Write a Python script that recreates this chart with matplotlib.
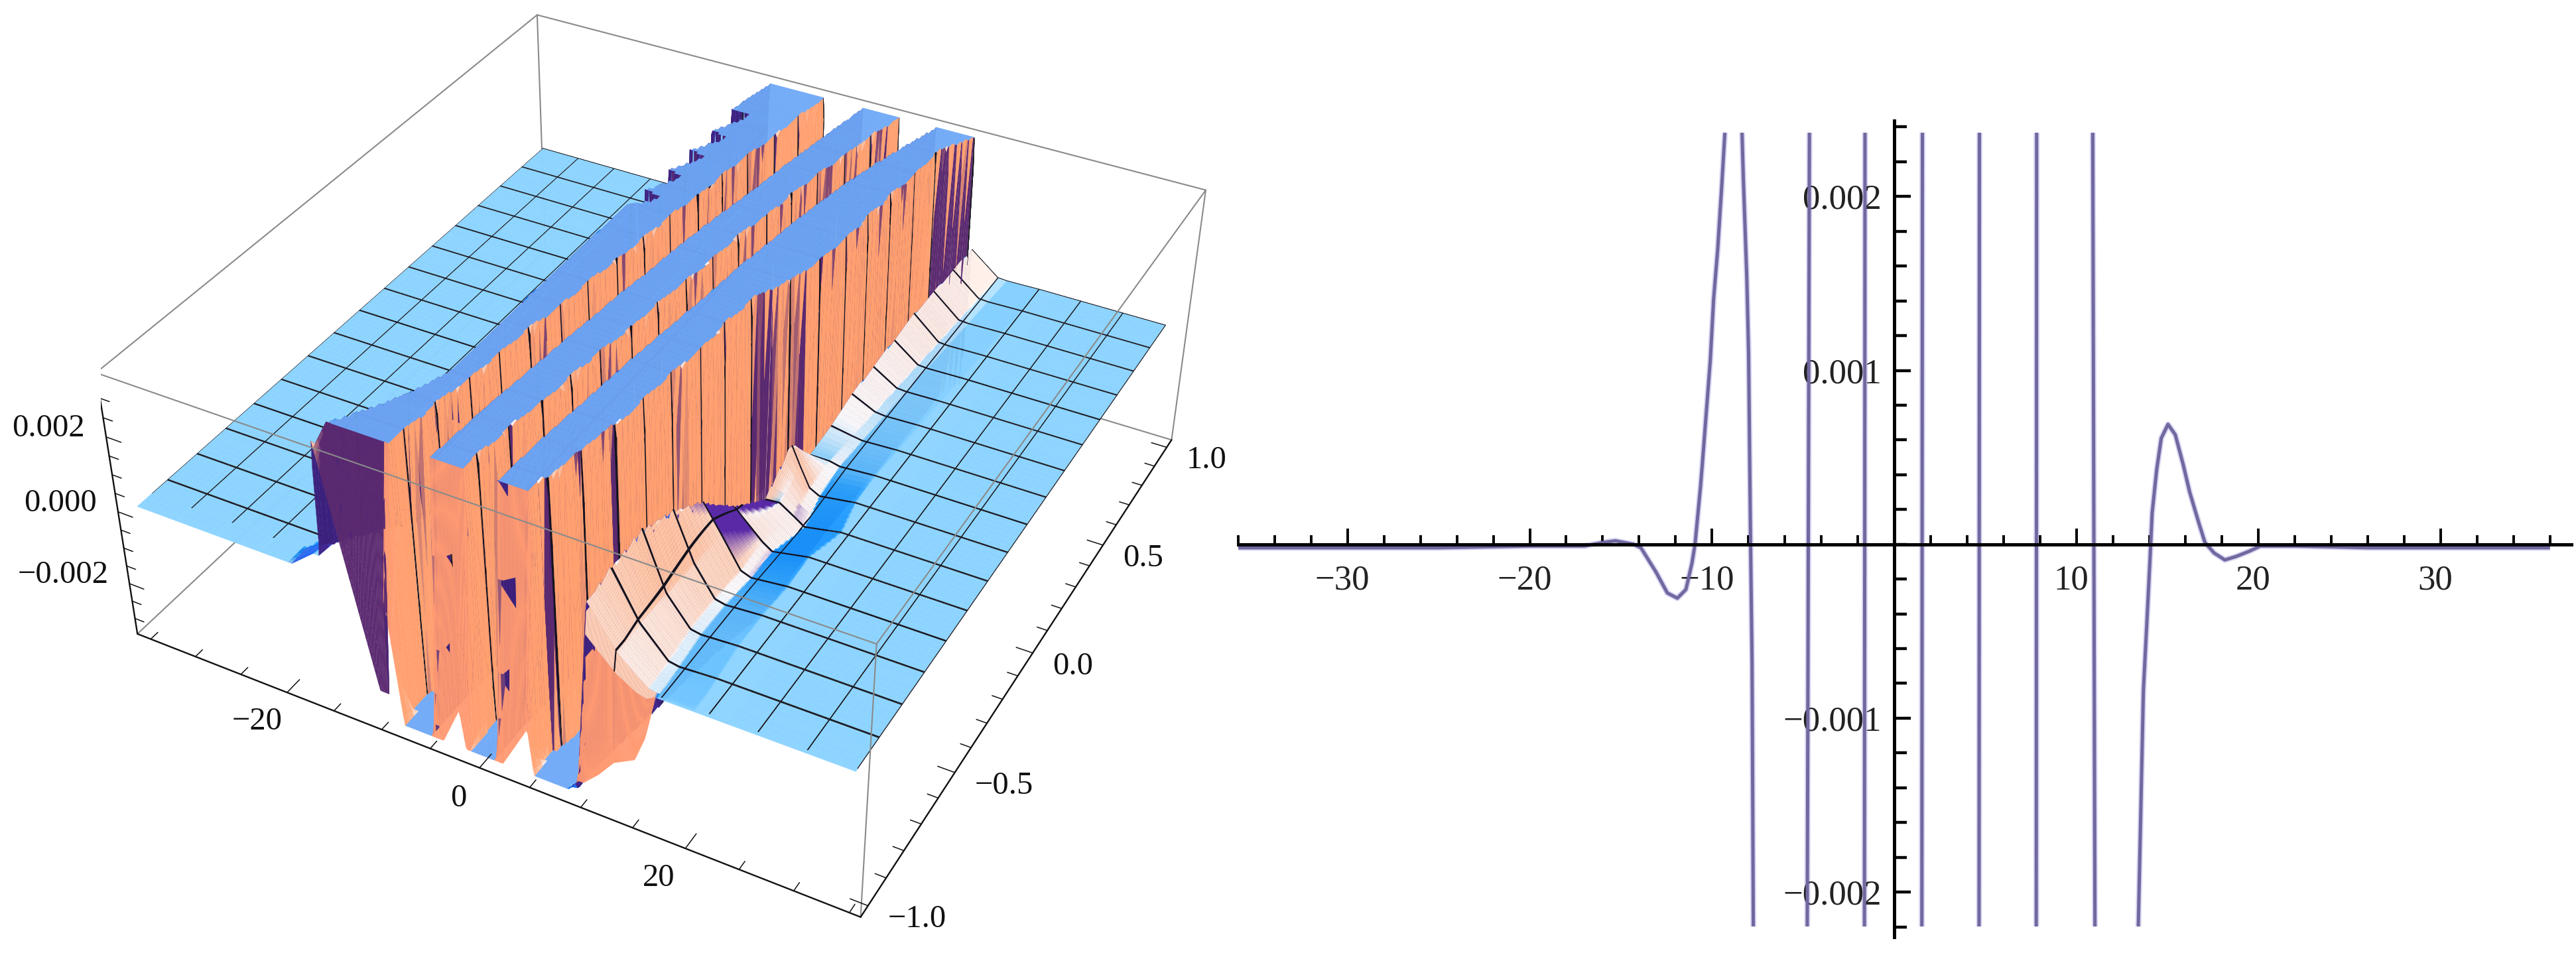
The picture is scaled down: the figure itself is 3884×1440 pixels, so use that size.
import numpy as np
import matplotlib
matplotlib.use('Agg')
import matplotlib.pyplot as plt
from matplotlib.colors import to_rgb
from matplotlib.transforms import ScaledTranslation
from mpl_toolkits.mplot3d import proj3d

W, H = 3884, 1440
plt.rcParams['font.family'] = ['Liberation Serif', 'DejaVu Sans']
nan = float('nan')

# ---- right panel curve
curve_x = [-36, -30, -25, -20, -17, -16, -15.3, -14.8, -14.3, -13.9, -13.07, -12.45, -11.9, -11.43, -11.1, -10.93,
           -10.63, -10.53, -10.09, -9.91, -9.69, -9.47, -9.29, nan,
           -8.35, -8.28, -8.09, -7.99, -7.88, -7.80, -7.73, nan,
           -4.77, -4.65, nan, -1.63, -1.60, nan, 1.52, 1.55, nan, 4.66, 4.68, nan, 7.80, 7.82, nan, 11.02, 10.90, nan,
           13.40, 13.68, 13.87, 14.05, 14.16, 14.41, 14.66, 15.03, 15.43, 15.86, 16.22, 16.7, 17.06, 17.56, 18.15, 18.77,
           19.49, 20.1, 22, 26, 30, 36]
curve_y = [-0.00002, -0.00002, -0.00002, -0.00001, -0.00001, 0.00001, 0.00002, 0.00001, 0.0, -0.00002, -0.00016, -0.00028,
           -0.00031, -0.00026, -0.00011, 0.0, 0.00033, 0.00046, 0.00106, 0.00141, 0.00169, 0.00205, 0.002367, nan,
           0.002367, 0.00211, 0.00154, 0.0011, 0.0, -0.00068, -0.002198, nan,
           -0.002198, 0.002367, nan, -0.002198, 0.002367, nan, -0.002198, 0.002367, nan, -0.002198, 0.002367, nan,
           -0.002198, 0.002367, nan, -0.002198, 0.002367, nan,
           -0.002198, -0.00084, -0.00045, -0.00007, 0.00018, 0.00043, 0.00061, 0.00069, 0.00063, 0.00046, 0.0003, 0.00013,
           0.00001, -0.00005, -0.00009, -0.00007, -0.00004, -0.00001, -0.00001, -0.00002, -0.00002, -0.00002]
x2_labels = ['\u221230', '\u221220', '\u221210', '10', '20', '30']
x2_ticks = [-30, -20, -10, 10, 20, 30]
y2_labels = ['\u22120.002', '\u22120.001', '0.001', '0.002']
y2_ticks = [-.002, -.001, .001, .002]

# ---- left panel surface tables (rows along y)
y_rows = [-1, -.875, -.75, -.625, -.5, -.375, -.25, -.125, 0, .125, .25, .375, .5, .625, .75, .875, 1]
d1_row = [-9.7, -9.1, -8.7, -8.3, -7.9, -7.5, -7.1, -6.7, -6.3, -5.9, -5.5, -5.1, -4.7, -4.2, -3.7, -3.2, -2.6]
u1_row = [-5.6, -5.5, -5.3, -5.0, -4.7, -4.4, -4.0, -3.7, -3.2, -2.9, -2.4, -1.8, -1.2, -.7, -.1, .5, 1.2]
d2_row = [-2.4, -2.0, -1.6, -1.2, -.8, -.4, 0, .4, .8, 1.2, 1.6, 2.1, 2.6, 3.2, 3.8, 4.6, 5.5]
u2_row = [.8, .9, 1.1, 1.4, 1.7, 2.0, 2.4, 2.8, 3.2, 3.5, 4.0, 4.5, 5.1, 5.8, 6.7, 7.8, 9.0]
d3_y = [-1, -.93, -.9, -.875, -.80, -.77, -.75, -.67, -.64, -.625, -.5, -.375, -.25, -.125, 0, .03, .125, .16, .25, .375, .5,
        .625, .75, .875, .91, 1]
d3_x = [3.9, 3.9, 4.15, 4.7, 4.7, 4.95, 5.3, 5.3, 5.5, 5.8, 6.2, 6.5, 6.8, 7.0, 7.3, 7.5, 9.0, 9.2, 9.9, 10.2, 10.5,
        10.8, 11.1, 11.4, 11.8, 13.5]
crest_x = [9.6, 10.0, 10.5, 11, 11.5, 12.2, 13, 13.4, 13.2, 13.2, 13.2, 13.3, 13.4, 13.5, 13.6, 13.7, 13.8]
crest_z = [.0015, .00195, .0022, .002, .0015, .0007, .0002, .00105, .0, .0001, .0003, .0004, .0005, .0006, .0006, .0006, .0006]
mid_z = [.00056, .00074, .00072, .00076, .00077, .00035, .00025, .0005, .0, .00005, .00015, .0002, .00025, .0003, .0003, .0003, .0003]
flat_x = [15.6, 15.3, 15, 15, 15.2, 15, 16, 15.3, 15.2, 15.4, 15.6, 15.8, 16, 16.2, 16.4, 16.6, 16.8]
trough_z = [-.00004, -.00005, -.00005, -.00006, -.0001, -.00018, -.00018, -.00014, -.00006, -.00004, -.00003, -.00002, -.00002, -.00002, -.00002, -.00002, -.00002]
edge_z = [.0005, .0004, .0002, .0001, 0, 0, 0, 0, 0, 0, 0, 0, 0, 0, 0, 0, 0]
# small stair pattern of the plateau rims
rim_y = np.linspace(-1, 1, 33)
rim_jag = [0, .22, -.1, .29, -.16, .19, .03, .32, -.13, .16, -.19, .26, 0, .29, -.16, .19, -.06, .32, -.1, .22, -.19, .16, .03,
           .29, -.13, .19, -.16, .26, 0, .22, -.1, .16, 0]
# left edge of the first band: its own knots (sawtooth towards the back)
l0_y = [-1, -.94, -.875, -.75, -.625, -.5, -.25, .0, .24, .31, .33, .43, .45, .55, .57, .67, .69, .80, .82, 1]
l0_x = [-15.7, -15.7, -14.3, -12.0, -10.6, -10.5, -10.6, -10.5, -10.4, -8.4, -10.2, -8.4, -10.0, -8.2, -10.0, -8.0, -9.8, -8.0, -10.0, -9.0]
# coarse front row of the surface
row0_x = [-35.5, -19, -16.6, -15.9, -15.7, -10.8, -9.85, -9.75, -8.5, -4.5, -2.7, -2.2, 1.5, 4.1, 4.6, 8.0, 9.0, 9.5, 11, 12.5, 14.5, 15.5, 16.5, 34.3]
row0_z = [0, 0, .0005, .0005, .0036, -.0027, -.0027, .0002, -.00345, -.00345, -.0024, -.00345, -.00345, -.0022, -.00345, -.00345, -.0031, -.0031, -.0027, -.0022, -.0019, -.0012, 0, 0]

zlim = (-.00345, .00365)
xlim3 = (-36.5, 36.0)
ylim3 = (-1.04, 1.04)
x3_major = [-20, 0, 20]
x3_labels = ['\u221220', '0', '20']
y3_major = [-1.0, -.5, 0, .5, 1.0]
y3_labels = ['\u22121.0', '\u22120.5', '0.0', '0.5', '1.0']
z3_major = [-.002, 0, .002]
z3_labels = ['\u22120.002', '0.000', '0.002']

def hexs(s):
    return np.array(to_rgb(s))

stops_deg = [-90, -70, -45, -15, -7, -2, 0, 3, 8, 16, 34, 50, 62, 74, 84, 90]
stops_col = np.array([hexs(c) for c in ['#3A1F7A', '#4A2AA0', '#2A5CF0', '#0A8CFF', '#2FA6FF', '#7CCCFF', '#8CD4FF', '#A4DEFF',
                                         '#D0EEFF', '#FFFFFF', '#FFF6F2', '#FFE6DA', '#FFCFB5', '#FFBC98', '#FFA273', '#FFA070']])
purple = hexs('#5B2A70')
violet = hexs('#5A2AA8')
peach = hexs('#FFCFB5')
clipc = hexs('#6FA9F7')

x_mesh = np.linspace(-35.5, 34.3, 17)
y_mesh = np.linspace(-1, 1, 17)
dx_s, dy_s = 0.055, 0.003
xg = np.unique(np.concatenate([np.arange(-35.5, -19, .7), np.arange(-19, 23, .13), np.arange(23, 34.3, .7), [34.3],
                               np.clip(x_mesh - dx_s, -35.5, 34.3), np.clip(x_mesh + dx_s, -35.5, 34.3)]))
yg = np.unique(np.concatenate([np.arange(-1, 1.0001, .02), [-.99, -.94], l0_y, d3_y,
                               np.clip(y_mesh - dy_s, -1, 1), np.clip(y_mesh + dy_s, -1, 1)]))

def profile(y):
    T, B = zlim[1], zlim[0]
    g = lambda a: np.interp(y, y_rows, a)
    w = .17
    j = np.interp(y, rim_y, rim_jag)
    L0 = np.interp(y, l0_y, l0_x)
    D1, U1, D2, U2 = g(d1_row) + j, g(u1_row), g(d2_row) + j, g(u2_row)
    D3 = np.interp(y, d3_y, d3_x) + j
    Cx, Cz, Mz, Fx, Tz, Ez = g(crest_x), g(crest_z), g(mid_z), g(flat_x), g(trough_z), g(edge_z)
    Mx = .5 * (Cx + Fx)
    A = max(D3 + w + .25, Cx - .9)
    xp = [-35.5, L0 - 3.5, L0 - .8, L0 - w, L0 + w, D1 - w, D1 + w, U1 - w, U1 + w, D2 - w, D2 + w, U2 - w, U2 + w,
          D3 - w, D3 + w, A - w, Cx, Mx, Fx, Fx + 1.0, Fx + 4.5, 34.3]
    zp = [0, 0, Ez, Ez, T, T, B, B, T, T, B, B, T, T, B, B, Cz, Mz, 0, Tz, 0, 0]
    return np.interp(xg, xp, zp)

# depth of the coarse front sheet: deep up to x = 8, thin beyond
sheet_w = np.where(xg < 8, .06, .012)
Z = np.zeros((len(yg), len(xg)))
row_front = np.interp(xg, row0_x, row0_z)
row_next = profile(-.94)
for i, y in enumerate(yg):
    if y < -.94:
        t = np.clip((y + 1) / sheet_w, 0, 1)
        Z[i] = (1 - t) * row_front + t * row_next
    else:
        Z[i] = profile(y)
X, Y = np.meshgrid(xg, yg)

# face colours from the surface normal
sx, sy, sz = 1 / 72.5, 1 / 2.08, .4 / .0071
dzx = .5 * ((Z[:-1, 1:] - Z[:-1, :-1]) + (Z[1:, 1:] - Z[1:, :-1])) * sz / (np.diff(xg)[None, :] * sx)
dzy = .5 * ((Z[1:, :-1] - Z[:-1, :-1]) + (Z[1:, 1:] - Z[:-1, 1:])) * sz / (np.diff(yg)[:, None] * sy)
nrm = np.sqrt(dzx ** 2 + dzy ** 2 + 1)
nx, ny, nz = -dzx / nrm, -dzy / nrm, 1 / nrm
theta = np.degrees(np.arctan2(nx, nz))
cols = np.stack([np.interp(theta, stops_deg, stops_col[:, k]) for k in range(3)], axis=-1)
xc = .5 * (xg[1:] + xg[:-1])
yc = .5 * (yg[1:] + yg[:-1])
XC, YC = np.meshgrid(xc, yc)
sheet = YC < -1 + np.where(XC < 8, .06, .012)
wall = np.abs(dzx) > 6
ratio = np.abs(ny) / (np.abs(nx) + 1e-9)
wall_mix = np.where((ny < 0) & wall, np.clip((ratio - .28) * 8, 0, 1), 0.0)
wall_mix = np.where(sheet, np.clip(-ny * 3, 0, 1), wall_mix)
violet_zone = (XC > 8) & (YC > -.56) & (YC < -.2)
gentle_up = np.where(~wall & ~sheet & violet_zone, np.clip((ny - .06) * 9, 0, 1), 0.0)
gentle_dn = np.where(~wall & ~sheet & (XC > 8), np.clip((-ny - .2) * 3, 0, 1), 0.0)
tint = np.where((sheet & (XC > -9.8))[..., None], hexs('#FF9A72'), purple)
cols = cols * (1 - wall_mix[..., None]) + tint * wall_mix[..., None]
cols = cols * (1 - gentle_up[..., None]) + violet * gentle_up[..., None]
cols = cols * (1 - gentle_dn[..., None]) + peach * gentle_dn[..., None]
strip_x = np.abs(XC[..., None] - x_mesh).min(axis=-1) < dx_s
strip_y = np.abs(YC[..., None] - y_mesh).min(axis=-1) < dy_s
cols[(strip_y & ~sheet) | (strip_x & (np.abs(dzx) < 3) & (np.abs(dzy) < 6) & ~sheet)] = (0.07, 0.07, 0.1)
corners = np.stack([Z[:-1, :-1], Z[:-1, 1:], Z[1:, :-1], Z[1:, 1:]], axis=0)
top = (corners >= zlim[1] - 1e-9).all(axis=0)
bot = (corners <= zlim[0] + 1e-9).all(axis=0)
cols[top | bot] = clipc
rgba = np.concatenate([cols, np.ones(cols.shape[:2] + (1,))], axis=-1)

fig = plt.figure(figsize=(W / 100, H / 100), dpi=100)

def px_axes(l, t, r, b, **kw):
    return fig.add_axes([l / W, 1 - b / H, (r - l) / W, (b - t) / H], **kw)

ax = fig.add_axes([152.1 / W, -47.8 / H, 1696.0 / W, 1696.0 / H], projection='3d')
ax.set_xlim(*xlim3); ax.set_ylim(*ylim3); ax.set_zlim(*zlim)
ax.view_init(elev=36.321, azim=-61.595)
ax.set_proj_type('persp', focal_length=.439)
ax.set_box_aspect((1, 1, .4019))
ax.computed_zorder = False
ax.set_axis_off()
ax.patch.set_alpha(0)

surf = ax.plot_surface(X, Y, Z, rstride=1, cstride=1, facecolors=rgba, shade=False, linewidth=.22, antialiased=True, zorder=2)

GR = '#8a8a8a'; BK = '#111111'
xa, xb = xlim3; ya, yb = ylim3; za_, zb = zlim
def seg(p1, p2, c=GR, lw=1.5, zo=1):
    ax.plot([p1[0], p2[0]], [p1[1], p2[1]], [p1[2], p2[2]], color=c, lw=lw, zorder=zo, solid_capstyle='round')

# back edges
seg((xa, ya, za_), (xa, yb, za_)); seg((xa, yb, za_), (xb, yb, za_)); seg((xb, yb, za_), (xb, yb, zb))
seg((xa, yb, za_), (xa, yb, zb)); seg((xa, ya, zb), (xa, yb, zb)); seg((xa, yb, zb), (xb, yb, zb))
# front edges
seg((xa, ya, zb), (xb, ya, zb), zo=3); seg((xb, ya, zb), (xb, yb, zb), zo=3); seg((xb, ya, za_), (xb, ya, zb), zo=3)
# axes
seg((xa, ya, za_), (xa, ya, zb), BK, 1.7, 3); seg((xa, ya, za_), (xb, ya, za_), BK, 1.7, 3); seg((xb, ya, za_), (xb, yb, za_), BK, 1.7, 3)

x_ticks = np.arange(-35, 36, 5)
y_ticks = np.arange(-10, 11) / 10
z_ticks = np.arange(-.003, .00301, .0005)
for t in x_ticks:
    L = .055 if t in x3_major else .03
    seg((t, ya, za_), (t, ya + L, za_), BK, 1.1, 3)
for t in y_ticks:
    L = 1.6 if min(abs(t - m) for m in y3_major) < 1e-6 else 1.0
    seg((xb, t, za_), (xb - L, t, za_), BK, 1.1, 3)
for t in z_ticks:
    L = 1.6 if min(abs(t - m) for m in z3_major) < 1e-6 else 1.0
    seg((xa, ya, t), (xa + L, ya, t), BK, 1.1, 3)

fs3 = 35
M = ax.get_proj()
def lab(pt, s_, off_px, ha, va='center'):
    u, v, _ = proj3d.proj_transform(pt[0], pt[1], pt[2], M)
    ax.annotate(s_, xy=(u, v), xycoords='data', xytext=(off_px[0] * .72, -off_px[1] * .72), textcoords='offset points',
                ha=ha, va=va, fontsize=fs3, color='#111111', zorder=5, annotation_clip=False)
for t, s_, o in zip(x3_major, x3_labels, [(-45, 44), (-32, 46), (-40, 45)]):
    lab((t, ya, za_), s_, o, 'center')
for t, s_ in zip(z3_major, z3_labels):
    lab((xa, ya, t), s_, (-32, -13), 'right')
for t, s_ in zip(y3_major, y3_labels):
    lab((xb, t, za_), s_, (30, 20), 'left')

# ---- right panel
top_px, bot_px, l_px, r_px = 182, 1413, 1867, 3877
a2 = px_axes(l_px, top_px, r_px, bot_px)
x2 = lambda p_: (p_ - 2853) / 27.55
y2 = lambda p_: (820.7 - p_) / 262200
a2.set_xlim(x2(l_px), x2(r_px)); a2.set_ylim(y2(bot_px), y2(top_px))
a2.patch.set_alpha(0)
for sp in ['top', 'right']:
    a2.spines[sp].set_visible(False)
a2.spines['left'].set_position(('data', 0)); a2.spines['bottom'].set_position(('data', 0))
a2.spines['left'].set_linewidth(3.6); a2.spines['bottom'].set_linewidth(3.6)
a2.plot(curve_x, curve_y, color='#d8d4f2', lw=6.4, solid_capstyle='butt', zorder=1.5)
a2.plot(curve_x, curve_y, color='#6f699f', lw=3.6, solid_capstyle='butt', zorder=1.6)
a2.set_xticks(x2_ticks); a2.set_xticklabels(x2_labels)
a2.set_xticks(np.arange(-36, 37, 2), minor=True)
a2.set_yticks(y2_ticks); a2.set_yticklabels(y2_labels)
a2.set_yticks(np.arange(-.0022, .00241, .0002), minor=True)
a2.tick_params(axis='x', which='major', direction='in', length=17, width=2.8, labelsize=38, pad=22)
a2.tick_params(axis='x', which='minor', direction='in', length=10, width=2.8)
a2.tick_params(axis='y', which='major', direction='in', length=18, width=3.2, labelsize=38, pad=14)
a2.tick_params(axis='y', which='minor', direction='in', length=13.5, width=3.2)
shift = ScaledTranslation(-8 / 100, 0, fig.dpi_scale_trans)
for t in a2.get_xticklabels():
    t.set_transform(t.get_transform() + shift)
for t in a2.get_xticklabels() + a2.get_yticklabels():
    t.set_color('#222222'); t.set_zorder(5)

fig.savefig('out.png', dpi=100)
